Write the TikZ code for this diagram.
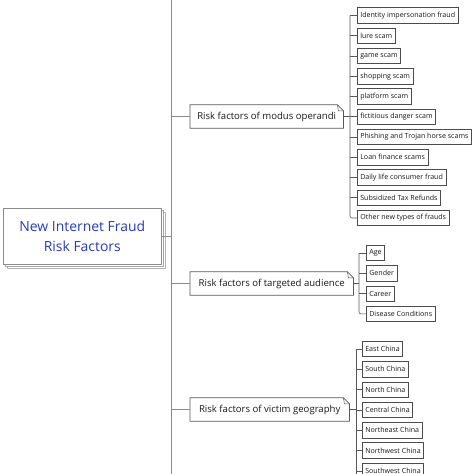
\documentclass[tikz,border=0pt]{standalone}
\usepackage{fontspec}
\setmainfont{Open Sans}
\definecolor{titleblue}{RGB}{38,58,196}
\begin{document}
\begin{tikzpicture}[x=1bp,y=-1bp,
  leaf/.style={draw=black!70, line width=0.6bp, fill=white, anchor=west,
    font=\fontsize{7.1}{8}\selectfont, text=black!90, inner xsep=3bp,
    inner ysep=0pt, minimum height=15.5bp},
  branch/.style={anchor=west, font=\fontsize{9.6}{11}\selectfont,
    text=black!90, inner sep=0pt, minimum height=23bp},
  boxline/.style={draw=black!65, line width=0.7bp},
  conn/.style={draw=black!65, line width=0.6bp},
  trunkline/.style={draw=black!45, line width=0.8bp},
]
\useasboundingbox (0,0) rectangle (474,474);
\clip (0,0) rectangle (474,474);
\fill[white] (0,0) rectangle (474,474);

% trunk
\coordinate (trunk) at (171,0);
\coordinate (trunkend) at (171,474);
\draw[trunkline] (trunk) -- (trunkend);

% main node with stacked sheets
\draw[draw=black!30, fill=white, line width=0.6bp] (7,212) rectangle (165,268);
\draw[draw=black!35, fill=white, line width=0.6bp] (5,210) rectangle (163,266);
\node[draw=black!45, fill=white, line width=0.6bp, minimum width=158bp,
  minimum height=56bp, anchor=north west, align=center, text=titleblue,
  font=\fontsize{14}{21}\selectfont] (main) at (3,208)
  {New Internet Fraud\\Risk Factors};
\draw[trunkline] (main.east) -- (main.east -| trunk);

% branch nodes
\node[branch, minimum width=153bp] (b1) at (190,116.5) {Risk factors of modus operandi};
\node[branch, minimum width=163bp] (b2) at (190,283.5) {Risk factors of targeted audience};
\node[branch, minimum width=159bp] (b3) at (190,409.5) {Risk factors of victim geography};
\foreach \b in {b1,b2,b3}{
  \draw[boxline] (\b.north west) -- ([xshift=-6bp]\b.north east)
    -- ([yshift=-6bp]\b.north east) -- (\b.south east) -- (\b.south west) -- cycle;
  \draw[draw=black!65, line width=0.5bp] ([xshift=-6bp]\b.north east)
    -- ([xshift=-5bp,yshift=-6bp]\b.north east) -- ([yshift=-6bp]\b.north east);
  \draw[trunkline] (\b.west) -- (\b.west -| trunk);
}

% branch 1 leaves
\coordinate (bus1) at (350,0);
\foreach \t [count=\i from 0] in {Identity impersonation fraud, lure scam, game scam,
  shopping scam, platform scam, fictitious danger scam,
  Phishing and Trojan horse scams, Loan finance scams,
  Daily life consumer fraud, Subsidized Tax Refunds, Other new types of frauds}{
  \node[leaf] (la\i) at (357,15.5+20.25*\i) {\t};
}
\draw[conn] (b1.east) -- (b1.east -| bus1);
\draw[conn, rounded corners=2bp] (la0.west -| bus1) -- (la10.west -| bus1) -- (la10.west);
\foreach \i in {0,...,9}{ \draw[conn] (la\i.west -| bus1) -- (la\i.west); }

% branch 2 leaves
\coordinate (bus2) at (359,0);
\foreach \t [count=\i from 0] in {Age, Gender, Career, Disease Conditions}{
  \node[leaf] (lb\i) at (366,253+20.3*\i) {\t};
}
\draw[conn] (b2.east) -- (b2.east -| bus2);
\draw[conn, rounded corners=2bp] (lb0.west -| bus2) -- (lb3.west -| bus2) -- (lb3.west);
\foreach \i in {0,...,2}{ \draw[conn] (lb\i.west -| bus2) -- (lb\i.west); }

% branch 3 leaves
\coordinate (bus3) at (356,0);
\foreach \t [count=\i from 0] in {East China, South China, North China, Central China,
  Northeast China, Northwest China, Southwest China}{
  \node[leaf] (lc\i) at (362,349+20.3*\i) {\t};
}
\draw[conn] (b3.east) -- (b3.east -| bus3);
\draw[conn] (lc0.west -| bus3) -- (lc6.west -| bus3);
\coordinate (bus3end) at (356,480);
\draw[conn] (lc6.west -| bus3) -- (bus3end);
\foreach \i in {0,...,6}{ \draw[conn] (lc\i.west -| bus3) -- (lc\i.west); }
\end{tikzpicture}
\end{document}
